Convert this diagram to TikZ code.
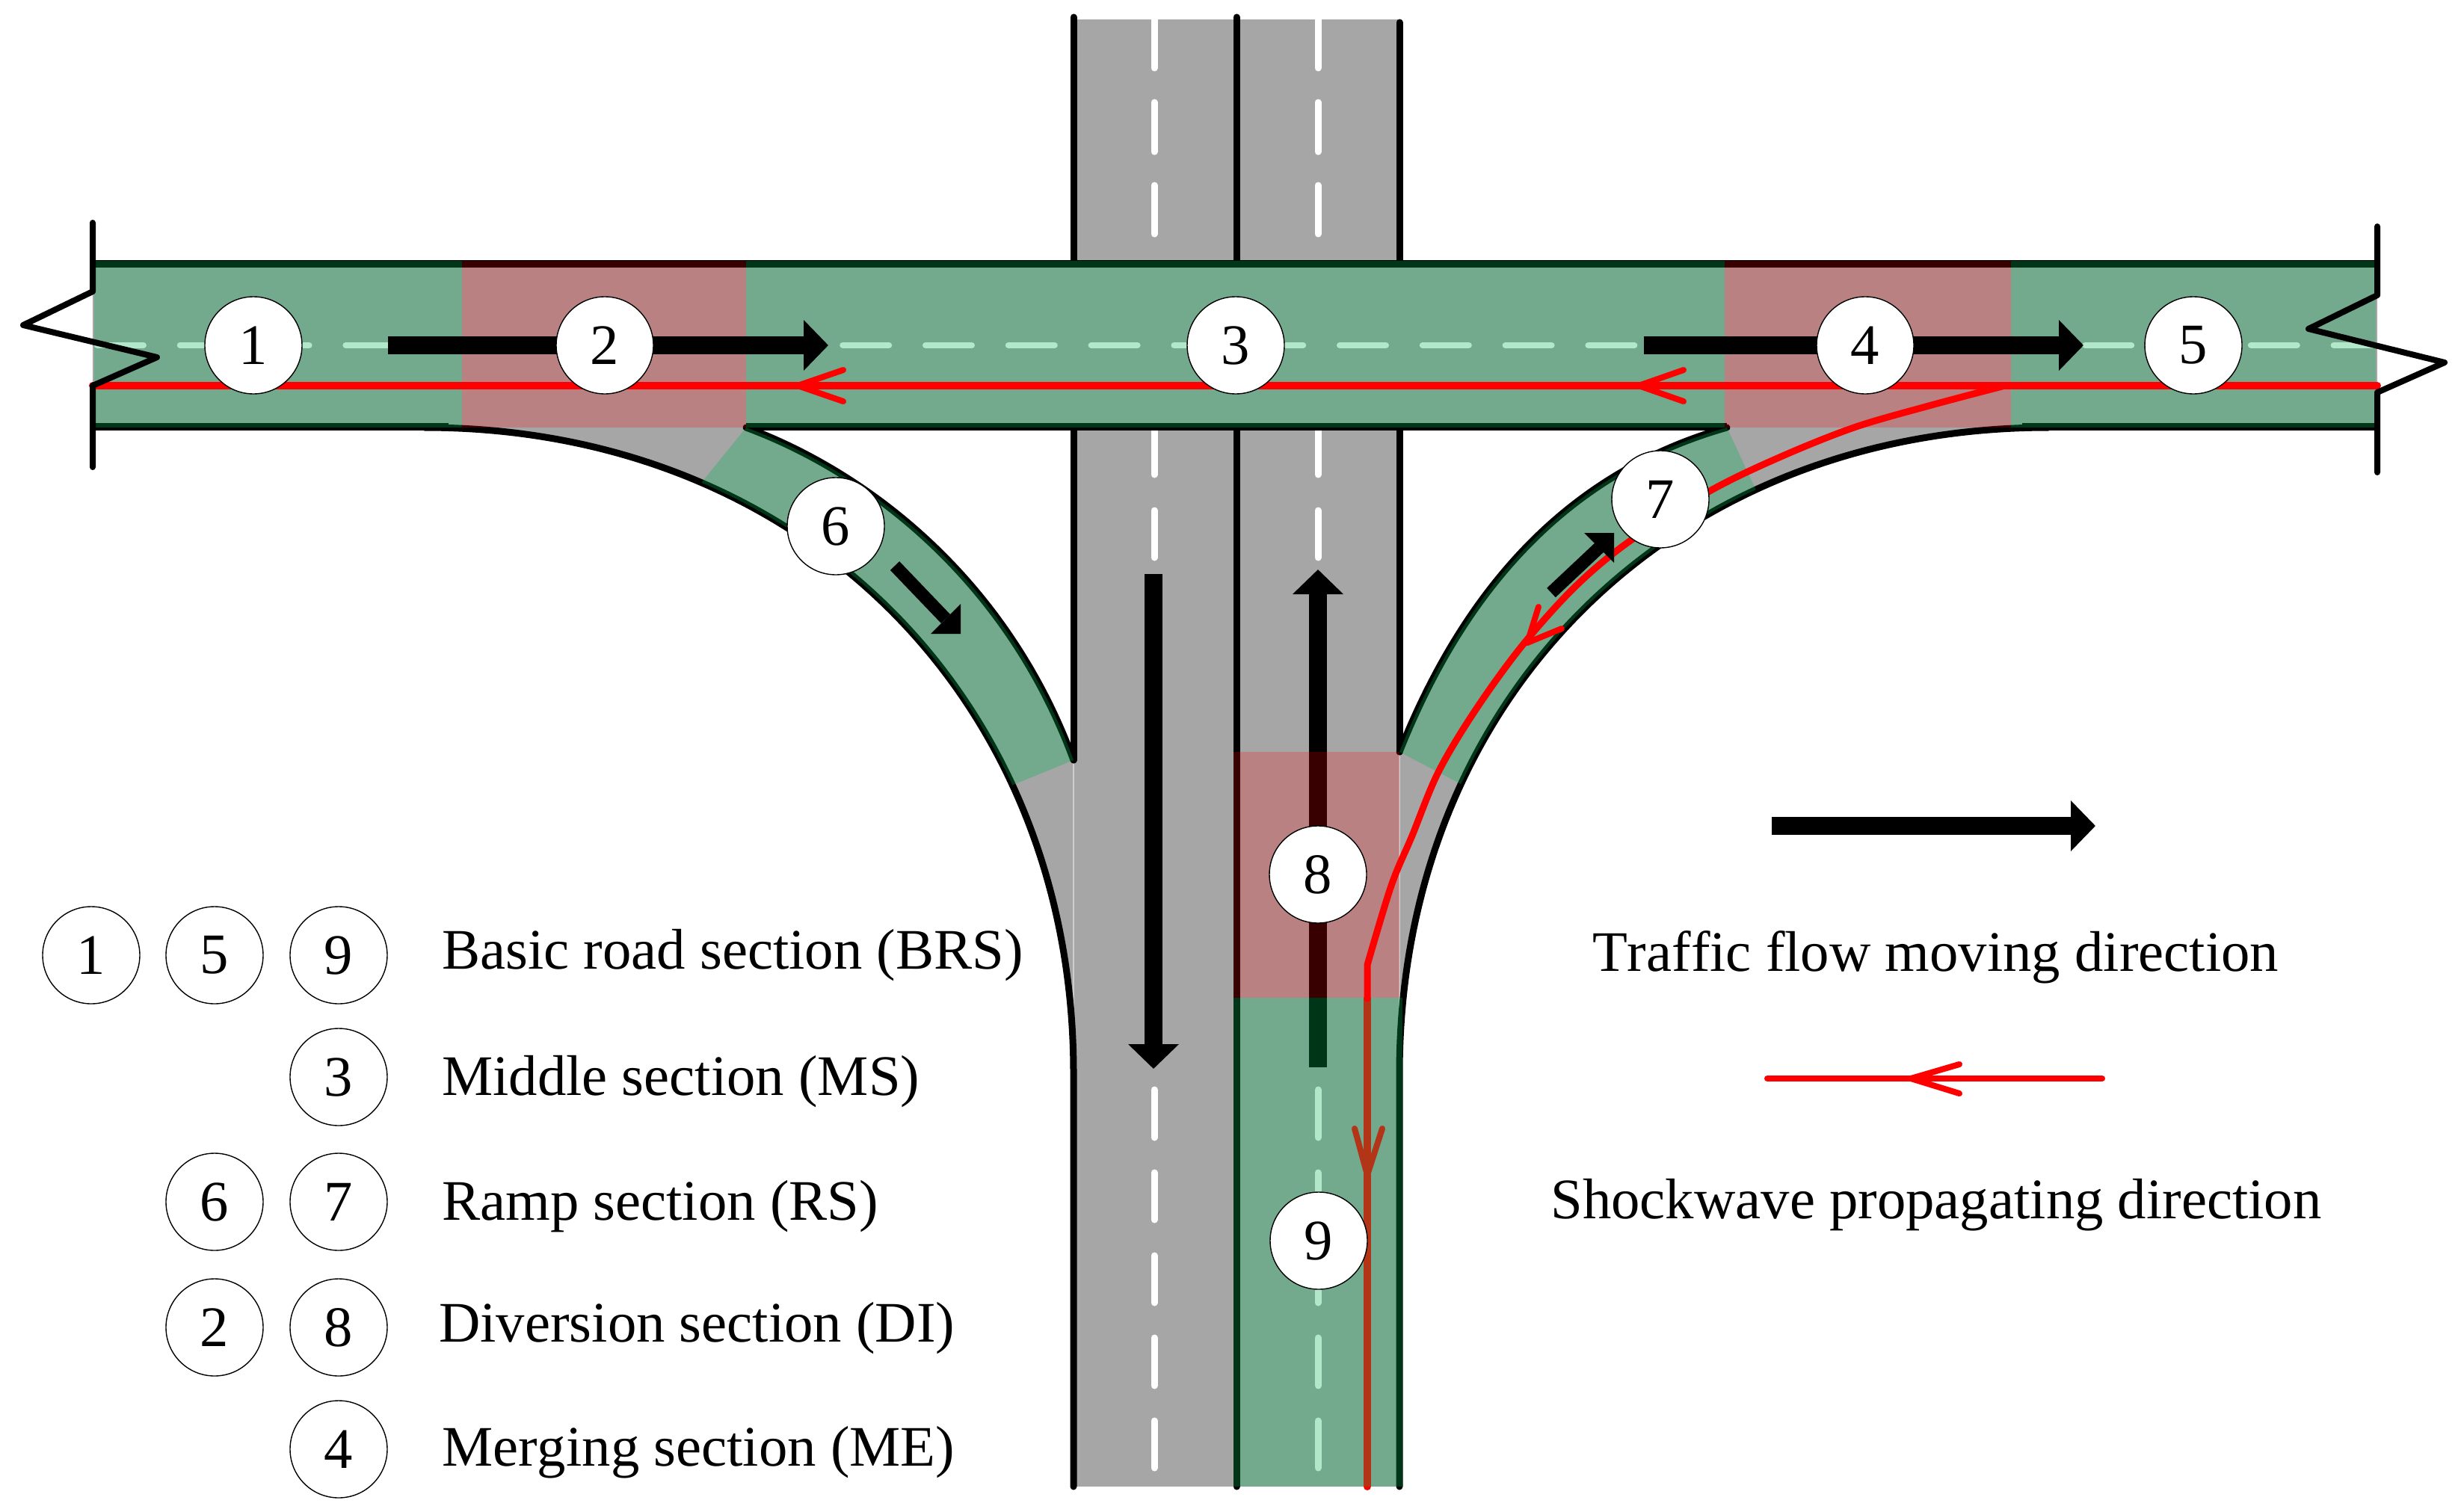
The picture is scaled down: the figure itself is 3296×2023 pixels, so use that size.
\documentclass[tikz,border=0pt]{standalone}
\usepackage{fontspec}
\setmainfont[Ligatures={NoCommon},Kerning=Off]{Liberation Serif}
\usetikzlibrary{arrows.meta}
\definecolor{roadgrey}{HTML}{A6A6A6}
\definecolor{flowgreen}{HTML}{00B050}
\definecolor{seam}{HTML}{CDCDCD}
\tikzset{
  x=1pt,y=-1pt,
  txt/.style={inner sep=0pt,font=\fontsize{76.7}{80}\selectfont,text=black},
  lbl/.style={txt,anchor=base west},
  num/.style={txt,circle,draw=black,line width=1.4pt,fill=white,minimum size=130pt,inner sep=0pt},
  greenov/.style={fill=flowgreen,fill opacity=.3},
  redov/.style={fill=red,fill opacity=.22},
  rdedge/.style={draw=black,line width=9pt},
  rdedgeh/.style={draw=black,line width=10pt},
  endmark/.style={draw=black,line width=8pt,line join=round,line cap=round},
  vdash/.style={draw=white,line width=9pt,line cap=round},
  hdash/.style={draw=white,line width=8pt,line cap=round},
  fat/.style={draw=black,line width=24pt,-{Triangle[length=33pt,width=66pt]}},
  slim/.style={draw=black,line width=17pt},
  shock/.style={draw=red,line width=10pt,line cap=round,line join=round},
  shockhead/.style={draw=red,line width=8pt,line cap=round,line join=round},
  seamline/.style={draw=seam,line width=1.5pt},
}
\begin{document}
\begin{tikzpicture}
\useasboundingbox (0,0) rectangle (3296,2023);
\fill[white] (0,0) rectangle (3296,2023);
% grey base
\fill[roadgrey] (124,349) rectangle (3180,572);
\fill[roadgrey] (1436,26) rectangle (1872,1989);
\fill[roadgrey] (568,572) .. controls (1071,572) and (1436,934) .. (1436,1436)
  -- (1436,1017) .. controls (1345,770) and (1155,630) .. (998,572) -- cycle;
\fill[roadgrey] (2740,572) .. controls (2237,572) and (1872,934) .. (1872,1436)
  -- (1872,1006) .. controls (1970,760) and (2120,626) .. (2310,572) -- cycle;
\draw[seamline] (1436,1017) -- (1436,1436);
\draw[seamline] (1872,1006) -- (1872,1436);
% lane dashes
\foreach \k in {0,...,27}
  \draw[hdash] ({130+110.8*\k},462) -- ({192+110.8*\k},462);
\foreach \a/\b in {20/91,137/203,248/313,574/635,683/746,1458/1522,1569/1632,1680/1743,1790/1854,1901/1964}{
  \draw[vdash] (1544,\a) -- (1544,\b);
  \draw[vdash] (1763,\a) -- (1763,\b);
}
\fill[white] (1430,0) rectangle (1880,26);
% road edges
\draw[rdedgeh] (124,353) -- (3180,353);
\draw[rdedgeh] (124,571) -- (600,571);
\draw[rdedgeh] (998,571) -- (2310,571);
\draw[rdedgeh] (2705,571) -- (3180,571);
\draw[rdedge,line cap=round] (1436,23) -- (1436,353);
\draw[rdedge,line cap=round] (1654,23) -- (1654,353);
\draw[rdedge,line cap=round] (1872,30) -- (1872,353);
\draw[rdedge,line cap=round] (1436,571) -- (1436,1017);
\draw[rdedge,line cap=round] (1872,571) -- (1872,1006);
\draw[rdedge,line cap=round] (1654,571) -- (1654,1989);
\draw[rdedge,line cap=round] (568,572) .. controls (1071,572) and (1436,934) .. (1436,1436) -- (1436,1989);
\draw[rdedge,line cap=round] (2740,572) .. controls (2237,572) and (1872,934) .. (1872,1436) -- (1872,1989);
\draw[rdedge,line cap=round] (998,572) .. controls (1155,630) and (1345,770) .. (1436,1017);
\draw[rdedge,line cap=round] (2310,572) .. controls (2120,626) and (1970,760) .. (1872,1006);
% items beneath the coloured sections
\draw[fat] (1763,1428) -- (1763,762);
\draw[shock] (1829,1336) -- (1829,1989);
\draw[shockhead] (1812,1510) -- (1829,1572) -- (1849,1510);
% section overlays
\fill[greenov] (126,349) rectangle (618,572);
\fill[redov]   (618,349) rectangle (998,572);
\fill[greenov] (998,349) rectangle (2307,572);
\fill[redov]   (2307,349) rectangle (2690,572);
\fill[greenov] (2690,349) rectangle (3178,572);
\fill[redov]   (1650,1006) rectangle (1872,1335);
\fill[greenov] (1650,1335) rectangle (1876,1989);
\begin{scope}
  \clip (568,572) .. controls (1071,572) and (1436,934) .. (1436,1436)
  -- (1436,1017) .. controls (1345,770) and (1155,630) .. (998,572) -- cycle;
  \fill[greenov] (998,572) -- (1436,572) -- (1436,1017) -- (1270,1085) -- (880,718) -- cycle;
\end{scope}
\begin{scope}
  \clip (2740,572) .. controls (2237,572) and (1872,934) .. (1872,1436)
  -- (1872,1006) .. controls (1970,760) and (2120,626) .. (2310,572) -- cycle;
  \fill[greenov] (2310,572) -- (1872,572) -- (1872,1006) -- (2040,1094) -- (2390,744) -- cycle;
\end{scope}
% shockwave
\draw[shock] (124,516) -- (3180,516);
\draw[shockhead] (1128,495) -- (1067,516) -- (1128,537);
\draw[shockhead] (2252,495) -- (2192,516) -- (2252,537);
\draw[shock,line width=9pt] plot[smooth,tension=.55] coordinates {(2682,516) (2580,543) (2480,572) (2380,612) (2287,657) (2180,724) (2107,785) (2036,864) (1973,951) (1924,1033) (1889,1118) (1861,1185) (1829,1291)} -- (1829,1336);
\draw[shockhead] (2058,812) -- (2043,860) -- (2089,841);
% traffic arrows
\draw[fat] (519,462) -- (1108,462);
\draw[fat] (2199,462) -- (2787,462);
\draw[fat] (1543,768) -- (1543,1430);
\draw[slim] (1197,757) -- (1265,828);
\fill[black] (1245,848) -- (1285,848) -- (1285,808) -- cycle;
\draw[slim] (2075,793) -- (2142,730);
\fill[black] (2119,713) -- (2159,713) -- (2159,753) -- cycle;
% road end marks
\draw[endmark] (124,298) -- (124,390) -- (31,435) -- (210,478) -- (124,516) -- (124,625);
\draw[endmark] (3180,303) -- (3180,395) -- (3088,440) -- (3270,485) -- (3180,525) -- (3180,632);
% numbered sections
\node[num] (s1) at (339,462) {1};
\node[num] (s2) at (809,462) {2};
\node[num] (s3) at (1653,462) {3};
\node[num] (s4) at (2495,462) {4};
\node[num] (s5) at (2934,462) {5};
\node[num] (s6) at (1118,704) {6};
\node[num] (s7) at (2221,668) {7};
\node[num] (s8) at (1763,1170) {8};
\node[num] (s9) at (1764,1660) {9};
% legend
\node[num] (k1) at (122,1278) {1};
\node[num] (k5) at (287,1278) {5};
\node[num] (k9) at (453,1278) {9};
\node[num] (k3) at (453,1441) {3};
\node[num] (k6) at (287,1608) {6};
\node[num] (k7) at (453,1608) {7};
\node[num] (k2) at (287,1776) {2};
\node[num] (k8) at (453,1776) {8};
\node[num] (k4) at (453,1939) {4};
\node[lbl] (t1) at (591,1296) {Basic road section (BRS)};
\node[lbl] (t2) at (591,1465) {Middle section (MS)};
\node[lbl] (t3) at (591,1632) {Ramp section (RS)};
\node[lbl] (t4) at (587,1795) {Diversion section (DI)};
\node[lbl] (t5) at (591,1961) {Merging section (ME)};
\coordinate (fa) at (2370,1105);
\coordinate (fb) at (2803,1105);
\draw[fat] (fa) -- (fb);
\node[txt,anchor=base] (t6) at (2589,1299) {Traffic flow moving direction};
\coordinate (sa) at (2364,1443);
\coordinate (sb) at (2812,1443);
\draw[shockhead] (sb) -- (sa);
\draw[shockhead] (2621,1424) -- (2556,1443) -- (2621,1463);
\node[txt,anchor=base] (t7) at (2590,1630) {Shockwave propagating direction};
\end{tikzpicture}
\end{document}
